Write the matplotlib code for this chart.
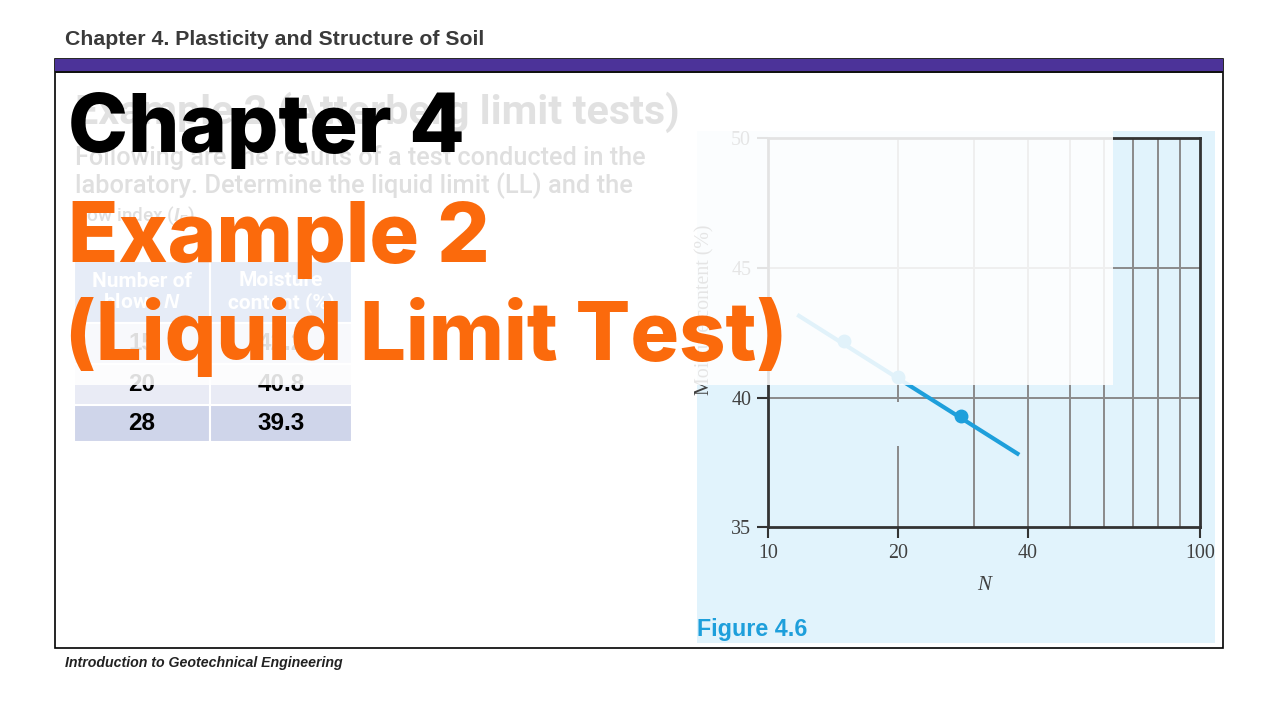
import matplotlib
matplotlib.use("Agg")
import matplotlib.pyplot as plt
from matplotlib.patches import Rectangle
from matplotlib.ticker import NullLocator, FixedLocator, FixedFormatter
import numpy as np

# ---------------- data ----------------
blows_N = [15, 20, 28]
moisture_w = [42.2, 40.8, 39.3]
fit_N = [11.7, 38.2]
fit_w = [43.2, 37.8]
x_ticks = [10, 20, 40, 100]
x_tick_labels = ["10", "20", "40", "100"]
y_ticks = [35, 40, 45, 50]
y_tick_labels = ["35", "40", "45", "50"]
table_header = ["Number of\nblows $N$", "Moisture\ncontent (%)"]

header_text = "Chapter 4. Plasticity and Structure of Soil"
footer_text = "Introduction to Geotechnical Engineering"
slide_title = "Example 2 (Atterberg limit tests)"
slide_para = ["Following are the results of a test conducted in the",
              "laboratory. Determine the liquid limit (LL) and the",
              "flow index ($I_F$)."]
big_titles = ["Chapter 4", "Example 2", "(Liquid Limit Test)"]
figure_caption = "Figure 4.6"

# ---------------- setup ----------------
plt.rcParams['mathtext.fontset'] = 'custom'
plt.rcParams['mathtext.it'] = 'Liberation Sans:italic:bold'
plt.rcParams['mathtext.rm'] = 'Liberation Sans:bold'
plt.rcParams['mathtext.bf'] = 'Liberation Sans:bold'

W, H = 1280, 720
fig = plt.figure(figsize=(12.8, 7.2), dpi=100)
fig.patch.set_facecolor("white")
renderer = fig.canvas.get_renderer()


def fx(px):
    return px / W


def fy(py):
    return 1 - py / H


def fit_text(x, y, s, width, **kw):
    t = fig.text(fx(x), fy(y), s, **kw)
    bb = t.get_window_extent(renderer=renderer)
    t.set_fontsize(t.get_fontsize() * width / bb.width)
    return t


def rect(x0, y0, x1, y1, **kw):
    r = Rectangle((fx(x0), fy(y1)), fx(x1) - fx(x0), fy(y0) - fy(y1),
                  transform=fig.transFigure, **kw)
    fig.patches.append(r)
    return r


sans = ['Liberation Sans', 'DejaVu Sans']
medium = ['Roboto', 'Liberation Sans', 'DejaVu Sans']
heavy = ['Inter', 'Liberation Sans', 'DejaVu Sans']
serif = ['Liberation Serif', 'DejaVu Serif']

# ---------------- slide frame ----------------
fit_text(65, 45, header_text, 420, family=sans, weight='bold',
         color='#3a3a3a', fontsize=15, va='baseline')
rect(55, 59, 1223, 648, facecolor='none', edgecolor='black', lw=1.2, zorder=1)
rect(55, 59, 1223, 71, facecolor='#4C3399', edgecolor='none', zorder=1)
rect(55, 70.5, 1223, 72.5, facecolor='#111111', edgecolor='none', zorder=1)
fit_text(65, 666.5, footer_text, 278, family=sans, weight='bold',
         style='italic', color='#222222', fontsize=11, va='baseline')

# ---------------- underlying slide content ----------------
fit_text(75, 124, slide_title, 605, family=medium, weight='bold',
         color='#222222', fontsize=36, va='baseline', zorder=3)
for line, base, wid in zip(slide_para, [165, 193, 221], [572, 560, 125]):
    fit_text(75, base, line, wid, family=medium, weight='medium',
             color='#111111', fontsize=18, va='baseline', zorder=3)

# table
col_x = [74, 210, 352]
row_y = [260.7, 323.3, 364, 404.5, 442]
row_colors = ['#CFD5EA', '#E9EBF5', '#CFD5EA']
for j in range(2):
    rect(col_x[j], row_y[0], col_x[j + 1], row_y[1], facecolor='#4472C4',
         edgecolor='white', lw=1.5, zorder=2)
    fig.text(fx((col_x[j] + col_x[j + 1]) / 2), fy((row_y[0] + row_y[1]) / 2),
             table_header[j], ha='center', va='center', family=medium,
             weight='bold', color='white', fontsize=15, linespacing=1.1,
             zorder=3)
for i in range(3):
    vals = [str(blows_N[i]), f"{moisture_w[i]:.1f}"]
    for j in range(2):
        rect(col_x[j], row_y[i + 1], col_x[j + 1], row_y[i + 2],
             facecolor=row_colors[i], edgecolor='white', lw=1.5, zorder=2)
        fig.text(fx((col_x[j] + col_x[j + 1]) / 2),
                 fy((row_y[i + 1] + row_y[i + 2]) / 2), vals[j],
                 ha='center', va='center', family=sans, weight='bold',
                 color='black', fontsize=17.5, zorder=3)

# ---------------- figure panel ----------------
rect(697, 131, 1215, 643, facecolor='#E1F3FC', edgecolor='none', zorder=1)
fit_text(697, 636.4, figure_caption, 110, family=sans, weight='bold',
         color='#1E9FDB', fontsize=16, va='baseline', zorder=6)

ax = fig.add_axes([767.8 / W, 1 - 527.4 / H, 432 / W, 389 / H])
ax.set_zorder(2)
ax.set_facecolor('none')
ax.set_xscale('log')
ax.set_xlim(10, 100)
ax.set_ylim(35, 50)

grid_c = '#8a8a8a'
for n in [30, 40, 50, 60, 70, 80, 90]:
    ax.axvline(n, color=grid_c, lw=1.4, zorder=1)
ax.vlines([20, 20], [35, 39.85], [38.15, 50], color=grid_c, lw=1.4, zorder=1)
for yv in [40, 45]:
    ax.axhline(yv, color=grid_c, lw=1.4, zorder=1)

line_c = '#1E9FDB'
ax.plot(fit_N, fit_w, color=line_c, lw=3, solid_capstyle='butt', zorder=3)
ax.plot(blows_N, moisture_w, 'o', color=line_c, ms=9, zorder=4)

ax.xaxis.set_major_locator(FixedLocator(x_ticks))
ax.xaxis.set_major_formatter(FixedFormatter(x_tick_labels))
ax.xaxis.set_minor_locator(NullLocator())
ax.yaxis.set_major_locator(FixedLocator(y_ticks))
ax.yaxis.set_major_formatter(FixedFormatter(y_tick_labels))
ax.tick_params(direction='out', length=8, width=1.5, color='#333333',
               labelsize=14.4, labelcolor='#404040', pad=4)
for lab in ax.get_xticklabels() + ax.get_yticklabels():
    lab.set_family(serif)
for sp in ax.spines.values():
    sp.set_color('#333333')
    sp.set_linewidth(2)

ax.set_xlabel('N', family=serif, style='italic', fontsize=15, color='#404040')
ax.xaxis.label.set_va('center')
ax.xaxis.set_label_coords(0.5016, -(585.6 - 527.4) / 389)
ax.set_ylabel('Moisture content (%)', family=serif, fontsize=14.4,
              color='#404040')
ax.yaxis.label.set_va('center')
ax.yaxis.set_label_coords((705 - 767.8) / 432, (527.4 - 310) / 389)

# ---------------- white overlay ----------------
rect(57, 73, 1113, 385, facecolor='white', alpha=0.87, edgecolor='none',
     zorder=5)

# ---------------- big titles ----------------
fit_text(68, 151.7, big_titles[0], 397, family=heavy, weight=800,
         color='black', fontsize=56, va='baseline', zorder=10)
fit_text(68, 261.7, big_titles[1], 422, family=heavy, weight=800,
         color='#FB6A0C', fontsize=56, va='baseline', zorder=10)
fit_text(65, 360, big_titles[2], 722, family=heavy, weight=800,
         color='#FB6A0C', fontsize=56, va='baseline', zorder=10)

fig.savefig('out.png', dpi=100, facecolor='white')
